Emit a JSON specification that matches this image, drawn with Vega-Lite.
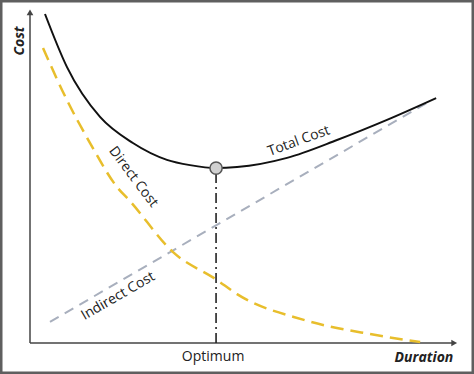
{
  "$schema": "https://vega.github.io/schema/vega-lite/v6.json",
  "width": 474,
  "height": 374,
  "padding": 0,
  "autosize": {"type": "none"},
  "config": {
    "view": {"stroke": "#5f5f5f", "strokeWidth": 5},
    "background": "white"
  },
  "datasets": {
    "total": [
      {"d": 3.57, "c": 99.7},
      {"d": 8.81, "c": 83.6},
      {"d": 16.67, "c": 68.5},
      {"d": 24.5, "c": 60.6},
      {"d": 32.6, "c": 55.5},
      {"d": 38.1, "c": 53.9},
      {"d": 44.3, "c": 53.0},
      {"d": 49.3, "c": 53.3},
      {"d": 61.2, "c": 56.1},
      {"d": 73.1, "c": 61.5},
      {"d": 85.0, "c": 67.6},
      {"d": 96.7, "c": 74.2}
    ],
    "direct": [
      {"d": 3.1, "c": 89.4},
      {"d": 8.8, "c": 73.6},
      {"d": 14.3, "c": 60.6},
      {"d": 20.7, "c": 47.3},
      {"d": 23.8, "c": 43.0},
      {"d": 34.0, "c": 27.6},
      {"d": 44.5, "c": 19.1},
      {"d": 49.3, "c": 14.8},
      {"d": 65.2, "c": 7.0},
      {"d": 81.0, "c": 2.7},
      {"d": 92.9, "c": 0.3}
    ],
    "indirect": [
      {"d": 4.76, "c": 6.4},
      {"d": 95.2, "c": 73.3}
    ],
    "axes": [
      {"d": 0, "c": 0, "d2": 0, "c2": 99.5},
      {"d": 0, "c": 0, "d2": 100.5, "c2": 0}
    ],
    "arrows": [
      {"d": 0, "c": 100.2, "shape": "triangle-up"},
      {"d": 101.0, "c": 0, "shape": "triangle-right"}
    ],
    "optimum": [
      {"d": 44.3, "c": 0, "d2": 44.3, "c2": 51.5}
    ],
    "dot": [
      {"d": 44.3, "c": 53.0}
    ],
    "labels": [
      {"d": 64.0, "c": 61.2, "text": "Total Cost", "angle": -20},
      {"d": 24.6, "c": 50.3, "text": "Direct Cost", "angle": 53},
      {"d": 21.0, "c": 14.2, "text": "Indirect Cost", "angle": -30},
      {"d": 43.6, "c": -4.3, "text": "Optimum", "angle": 0}
    ],
    "axisTitles": [
      {"d": -2.5, "c": 91.5, "text": "Cost", "angle": 270},
      {"d": 93.8, "c": -4.5, "text": "Duration", "angle": 0}
    ]
  },
  "encoding": {
    "x": {"field": "d", "type": "quantitative", "axis": null,
          "scale": {"domain": [-7.143, 105.714], "nice": false, "zero": false}},
    "y": {"field": "c", "type": "quantitative", "axis": null,
          "scale": {"domain": [-9.394, 103.94], "nice": false, "zero": false}}
  },
  "layer": [
    {
      "data": {"name": "axes"},
      "mark": {"type": "rule", "color": "#444444", "strokeWidth": 1.5},
      "encoding": {
        "x2": {"field": "d2"},
        "y2": {"field": "c2"}
      }
    },
    {
      "data": {"name": "arrows"},
      "mark": {"type": "point", "filled": true, "color": "#444444", "size": 45, "opacity": 1},
      "encoding": {
        "shape": {"field": "shape", "type": "nominal", "scale": null}
      }
    },
    {
      "data": {"name": "indirect"},
      "mark": {"type": "line", "color": "#A8AFBD", "strokeWidth": 2, "strokeDash": [10, 7]},
      "encoding": {}
    },
    {
      "data": {"name": "direct"},
      "mark": {"type": "line", "color": "#E8BE2C", "strokeWidth": 2.5, "strokeDash": [13, 7], "interpolate": "monotone"},
      "encoding": {}
    },
    {
      "data": {"name": "optimum"},
      "mark": {"type": "rule", "color": "#222222", "strokeWidth": 1.6, "strokeDash": [10, 4, 2, 4]},
      "encoding": {
        "x2": {"field": "d2"},
        "y2": {"field": "c2"}
      }
    },
    {
      "data": {"name": "total"},
      "mark": {"type": "line", "color": "#111111", "strokeWidth": 2, "interpolate": "monotone"},
      "encoding": {}
    },
    {
      "data": {"name": "dot"},
      "mark": {"type": "point", "filled": true, "fill": "#d0d0d0", "stroke": "#555555", "strokeWidth": 1.5, "size": 150, "opacity": 1},
      "encoding": {}
    },
    {
      "data": {"name": "labels"},
      "mark": {"type": "text", "font": "Open Sans", "fontSize": 14, "color": "#222222", "align": "center", "baseline": "middle"},
      "encoding": {
        "text": {"field": "text"},
        "angle": {"field": "angle", "type": "quantitative", "scale": null}
      }
    },
    {
      "data": {"name": "axisTitles"},
      "mark": {"type": "text", "font": "Open Sans", "fontSize": 14, "fontWeight": "bold", "fontStyle": "italic", "color": "#222222", "align": "center", "baseline": "middle"},
      "encoding": {
        "text": {"field": "text"},
        "angle": {"field": "angle", "type": "quantitative", "scale": null}
      }
    }
  ]
}
